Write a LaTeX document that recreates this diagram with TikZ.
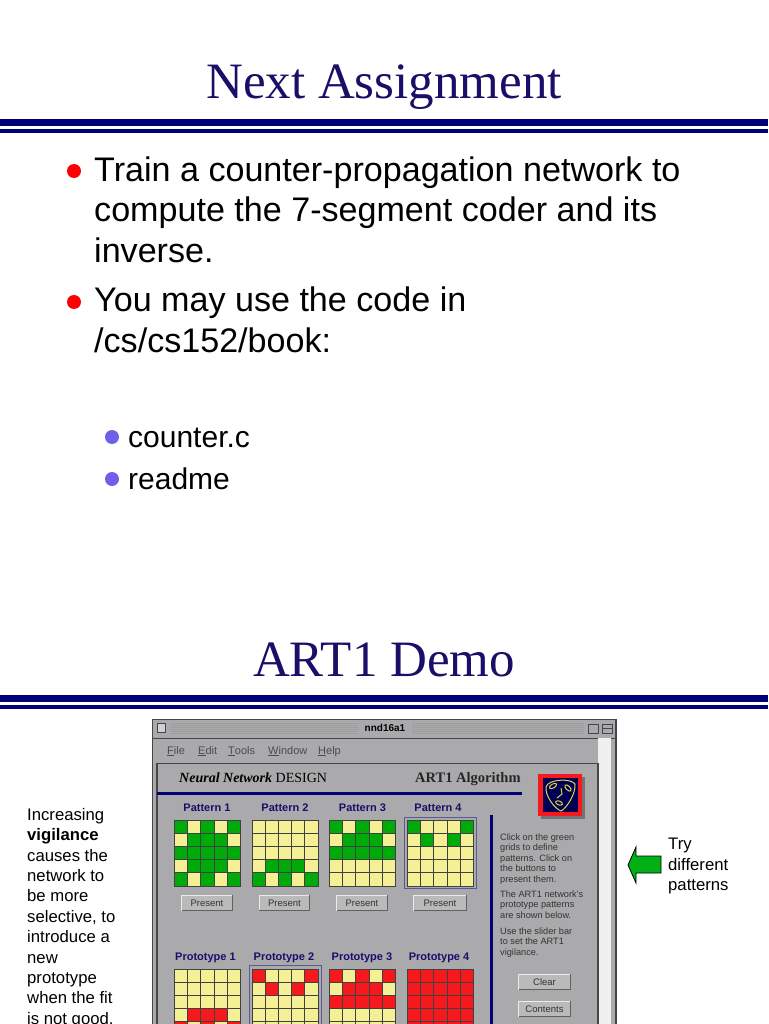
\documentclass[tikz,border=0pt]{standalone}
\usepackage{fontspec}
\setmainfont{Liberation Sans}
\newfontfamily\serifface{Liberation Serif}
\usepackage{tikz}
\definecolor{ruleblue}{RGB}{0,0,120}
\definecolor{titleblue}{RGB}{25,15,105}
\definecolor{subbullet}{RGB}{112,96,232}
\definecolor{wingray}{RGB}{170,170,172}
\definecolor{winedge}{RGB}{70,70,74}
\definecolor{cellyellow}{RGB}{245,240,150}
\definecolor{cellgreen}{RGB}{0,170,10}
\definecolor{cellred}{RGB}{245,25,30}
\definecolor{arrowgreen}{RGB}{0,176,20}
\definecolor{facegold}{RGB}{225,210,70}
\tikzset{
	slidetitle/.style={anchor=base, text=titleblue, font=\serifface\fontsize{51}{51}\selectfont},
	bodytext/.style={anchor=base west, font=\fontsize{34.1}{40.5}\selectfont, align=left, inner sep=0pt},
	subtext/.style={anchor=base west, font=\fontsize{30}{34}\selectfont, inner sep=0pt},
	sidenote/.style={anchor=north west, font=\fontsize{16.7}{20.4}\selectfont, align=left, inner sep=0pt},
	menuitem/.style={anchor=base west, text=black!70, font=\fontsize{11}{11}\selectfont, inner sep=0pt},
	gridlabel/.style={text=titleblue, font=\bfseries\fontsize{11}{11}\selectfont, inner sep=0pt},
	helptext/.style={anchor=north west, text=black!80, font=\fontsize{9.2}{10.5}\selectfont, align=left, inner sep=0pt},
	winbutton/.style={fill=black!27, text=black!80, font=\fontsize{9.5}{9.5}\selectfont, minimum height=15pt, inner sep=0pt},
	cellline/.style={draw=black!75, line width=1pt},
	faceline/.style={draw=facegold, line width=1pt}
}
\newcommand{\cellgrid}[4]{
	\foreach \rowcells [count=\j from 0] in {#4} {
		\foreach \cellval [count=\i from 0] in \rowcells {
			\ifnum\cellval=1 \def\cellcol{#3}\else\def\cellcol{cellyellow}\fi
			\draw [cellline, fill=\cellcol] ({#1+\i*13.2},{#2+\j*13.2}) rectangle ++(13.2,13.2);
		}
	}
}
\begin{document}
\begin{tikzpicture}[x=1pt,y=-1pt]
	\useasboundingbox (0,0) rectangle (768,1024);
	\clip (0,0) rectangle (768,1024);
	\fill [white] (0,0) rectangle (768,1024);
	% first slide
	\node [slidetitle] (nexttitle) at (384,99) {Next Assignment};
	\fill [ruleblue] (0,119.3) rectangle (768,126);
	\fill [ruleblue] (0,129.3) rectangle (768,132.7);
	\fill [red] (74,171) circle (7);
	\node [bodytext] (trainitem) at (94,262) {Train a counter-propagation network to\\compute the 7-segment coder and its\\inverse.};
	\fill [red] (74,302) circle (7);
	\node [bodytext] (codeitem) at (94,352) {You may use the code in\\/cs/cs152/book:};
	\fill [subbullet] (112,437) circle (7);
	\node [subtext] (counteritem) at (128,447) {counter.c};
	\fill [subbullet] (112,479) circle (7);
	\node [subtext] (readmeitem) at (128,489) {readme};
	% second slide
	\node [slidetitle] (demotitle) at (384,676) {ART1 Demo};
	\fill [ruleblue] (0,695.3) rectangle (768,702);
	\fill [ruleblue] (0,705.3) rectangle (768,708.7);
	\node [sidenote] (vigilnote) at (27,808) {Increasing\\\textbf{vigilance}\\causes the\\network to\\be more\\selective, to\\introduce a\\new\\prototype\\when the fit\\is not good.};
	\node [sidenote] (trynote) at (668,838) {Try\\different\\patterns};
	\draw [line width=0.8pt, fill=arrowgreen] (628,865) -- (636,847) -- (636,856) -- (661,856) -- (661,873) -- (636,873) -- (636,883) -- cycle;
	% demo window
	\draw [draw=winedge, line width=1.2pt, fill=wingray] (152.5,719.5) rectangle (616,1030);
	\draw [draw=winedge, line width=0.8pt] (152.5,738) -- (616,738);
	\draw [draw=winedge, line width=0.8pt, fill=black!18] (157,723) rectangle (165,732);
	\foreach \gy in {723,725,...,733} {
		\draw [black!38, line width=0.5pt] (171,\gy) -- (358,\gy);
		\draw [black!38, line width=0.5pt] (412,\gy) -- (584,\gy);
	}
	\node [font=\bfseries\fontsize{10}{10}\selectfont, inner sep=0pt] (wintitle) at (385,728) {nnd16a1};
	\draw [draw=winedge, line width=0.8pt] (588,724) rectangle (598,733);
	\draw [draw=winedge, line width=0.8pt] (602,724) rectangle (612,733);
	\draw [draw=winedge, line width=0.6pt] (602,728.5) -- (612,728.5);
	\fill [white!94!black] (598,738) rectangle (611,1030);
	\node [menuitem] (filemenu) at (167,754) {\underline{F}ile};
	\node [menuitem] (editmenu) at (198,754) {\underline{E}dit};
	\node [menuitem] (toolsmenu) at (228,754) {\underline{T}ools};
	\node [menuitem] (windowmenu) at (268,754) {\underline{W}indow};
	\node [menuitem] (helpmenu) at (318,754) {\underline{H}elp};
	\draw [draw=winedge, line width=1.2pt] (157,1030) -- (157,763.5) -- (598,763.5) -- (598,1030);
	\node [anchor=base west, inner sep=0pt, font=\serifface\fontsize{14}{14}\selectfont] (designtitle) at (179,782) {\textbf{\textit{Neural Network}} DESIGN};
	\node [anchor=base west, inner sep=0pt, text=black!85, font=\serifface\bfseries\fontsize{14.5}{14.5}\selectfont] (algotitle) at (415,782) {ART1 Algorithm};
	\draw [ruleblue, line width=3pt] (157,793) -- (522,793);
	\draw [ruleblue, line width=3pt] (491,815) -- (491,1030);
	% logo
	\fill [black!55] (541,777) rectangle (585,819);
	\fill [cellred] (538,774) rectangle (582,816);
	\fill [ruleblue!70!black] (543,778) rectangle (578,812);
	\draw [faceline] (546,787) .. controls (548,779) and (571,778) .. (575,784) .. controls (576,793) and (567,808) .. (561,811) .. controls (555,809) and (545,796) .. (546,787) -- cycle;
	\draw [faceline, rotate around={30:(553,786)}] (553,786) ellipse (4 and 2);
	\draw [faceline, rotate around={-45:(568,788)}] (568,788) ellipse (4 and 2);
	\draw [faceline, rotate around={-20:(559,803)}] (559,803) ellipse (3.5 and 2);
	\draw [faceline] (561,788) -- (562,794) -- (557,798);
	% patterns
	\node [gridlabel] (patternone) at (207,808) {Pattern 1};
	\node [gridlabel] (patterntwo) at (285,808) {Pattern 2};
	\node [gridlabel] (patternthree) at (362.5,808) {Pattern 3};
	\node [gridlabel] (patternfour) at (438,808) {Pattern 4};
	\cellgrid{174.5}{820}{cellgreen}{{1,0,1,0,1},{0,1,1,1,0},{1,1,1,1,1},{0,1,1,1,0},{1,0,1,0,1}}
	\cellgrid{252}{820}{cellgreen}{{0,0,0,0,0},{0,0,0,0,0},{0,0,0,0,0},{0,1,1,1,0},{1,0,1,0,1}}
	\cellgrid{329.5}{820}{cellgreen}{{1,0,1,0,1},{0,1,1,1,0},{1,1,1,1,1},{0,0,0,0,0},{0,0,0,0,0}}
	\cellgrid{407.5}{820}{cellgreen}{{1,0,0,0,1},{0,1,0,1,0},{0,0,0,0,0},{0,0,0,0,0},{0,0,0,0,0}}
	\draw [draw=titleblue!70, line width=0.8pt] (404,817) rectangle (476,888.5);
	\node [winbutton, minimum width=50pt] (presentone) at (207,903) {Present};
	\node [winbutton, minimum width=50pt] (presenttwo) at (284.5,903) {Present};
	\node [winbutton, minimum width=50pt] (presentthree) at (362,903) {Present};
	\node [winbutton, minimum width=52pt] (presentfour) at (440,903) {Present};
	% prototypes
	\node [gridlabel] (protoone) at (205.5,958) {Prototype 1};
	\node [gridlabel] (prototwo) at (284,958) {Prototype 2};
	\node [gridlabel] (protothree) at (362,958) {Prototype 3};
	\node [gridlabel] (protofour) at (439,958) {Prototype 4};
	\cellgrid{174.5}{969}{cellred}{{0,0,0,0,0},{0,0,0,0,0},{0,0,0,0,0},{0,1,1,1,0},{1,0,1,0,1}}
	\cellgrid{252}{969}{cellred}{{1,0,0,0,1},{0,1,0,1,0},{0,0,0,0,0},{0,0,0,0,0},{0,0,0,0,0}}
	\cellgrid{329.5}{969}{cellred}{{1,0,1,0,1},{0,1,1,1,0},{1,1,1,1,1},{0,0,0,0,0},{0,0,0,0,0}}
	\cellgrid{407.5}{969}{cellred}{{1,1,1,1,1},{1,1,1,1,1},{1,1,1,1,1},{1,1,1,1,1},{1,1,1,1,1}}
	\draw [draw=titleblue!70, line width=0.8pt] (249,1030) -- (249,965) -- (321,965) -- (321,1030);
	% help panel
	\node [helptext] (helpclick) at (500,833.5) {Click on the green\\grids to define\\patterns. Click on\\the buttons to\\present them.};
	\node [helptext] (helpnetwork) at (500,890.5) {The ART1 network's\\prototype patterns\\are shown below.};
	\node [helptext] (helpslider) at (500,927.5) {Use the slider bar\\to set the ART1\\vigilance.};
	\node [winbutton, minimum width=51pt] (clearbutton) at (544.5,982) {Clear};
	\node [winbutton, minimum width=51pt] (contentsbutton) at (544.5,1009) {Contents};
	\foreach \btn in {presentone,presenttwo,presentthree,presentfour,clearbutton,contentsbutton} {
		\draw [black!8, line width=1.2pt] (\btn.south west) |- (\btn.north east);
		\draw [black!62, line width=1.2pt] (\btn.south west) -| (\btn.north east);
	}
\end{tikzpicture}
\end{document}
